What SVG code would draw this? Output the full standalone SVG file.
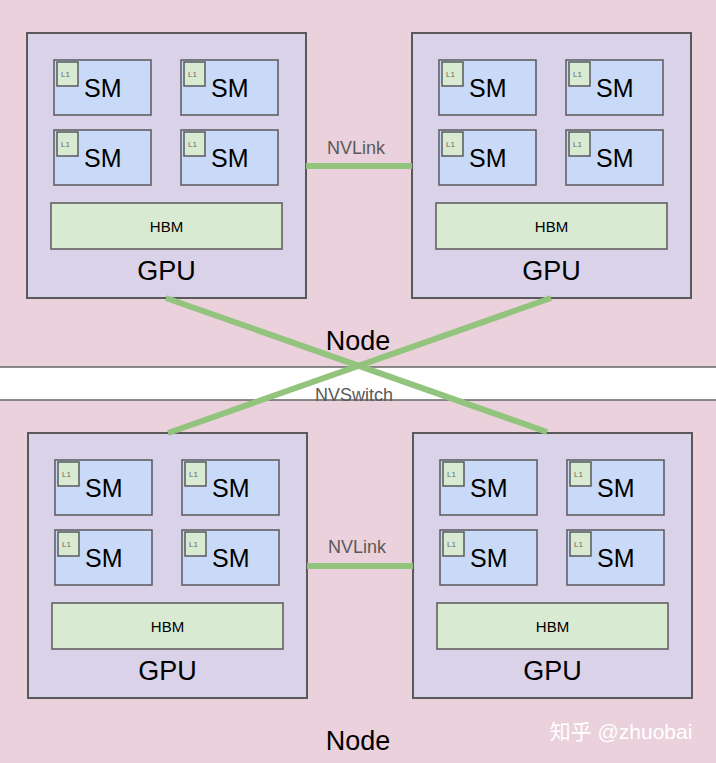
<svg xmlns="http://www.w3.org/2000/svg" xmlns:xlink="http://www.w3.org/1999/xlink" width="716" height="763" viewBox="0 0 716 763">
<style>
.node{fill:#ead1dc;stroke:#666;stroke-width:1.5}
.gpu{fill:#d9d2e9;stroke:#595959;stroke-width:2}
.sm{fill:#c9daf8;stroke:#595959;stroke-width:1.5}
.hbm{fill:#d9ead3;stroke:#595959;stroke-width:1.5}
.l1{fill:#d9ead3;stroke:#595959;stroke-width:1.5}
text{font-family:"Liberation Sans",Arial,sans-serif;fill:#000}
.t-sm{font-size:25px}
.t-l1{font-size:8px;fill:#666}
.t-hbm{font-size:15px;text-anchor:middle}
.t-gpu{font-size:27px;text-anchor:middle}
.t-node{font-size:27px;text-anchor:middle}
.t-lbl{font-size:18px;fill:#595959;text-anchor:middle}
.link{stroke:#93c47d;stroke-width:6;fill:none}
</style>
<defs>
<g id="smbox">
<rect class="sm" x="0" y="0" width="97" height="55"/>
<rect class="l1" x="3" y="2" width="21" height="24"/>
<text class="t-l1" x="7" y="17">L1</text>
<text class="t-sm" x="30" y="37">SM</text>
</g>
<g id="gpubox">
<rect class="gpu" x="0" y="0" width="279" height="265"/>
<use xlink:href="#smbox" x="27" y="27"/>
<use xlink:href="#smbox" x="154" y="27"/>
<use xlink:href="#smbox" x="27" y="97"/>
<use xlink:href="#smbox" x="154" y="97"/>
<rect class="hbm" x="24" y="170" width="231" height="46"/>
<text class="t-hbm" x="139.500" y="199">HBM</text>
<text class="t-gpu" x="139.500" y="247">GPU</text>
</g>
</defs>
<rect width="716" height="763" fill="#fff"/>
<g id="node-top"><rect class="node" x="-1" y="-2" width="718" height="369"/><text class="t-node" x="358" y="350">Node</text></g>
<g id="node-bottom"><rect class="node" x="-1" y="400" width="718" height="366"/><text class="t-node" x="358" y="750">Node</text></g>
<g id="gpu-tl"><use xlink:href="#gpubox" x="27" y="33"/></g>
<g id="gpu-tr"><use xlink:href="#gpubox" x="412" y="33"/></g>
<g id="gpu-bl"><use xlink:href="#gpubox" x="28" y="433"/></g>
<g id="gpu-br"><use xlink:href="#gpubox" x="413" y="433"/></g>
<g id="connectors">
<line class="link" x1="306" y1="166" x2="412" y2="166"/>
<line class="link" x1="307" y1="566" x2="413" y2="566"/>
<line class="link" x1="166" y1="298" x2="547" y2="432"/>
<line class="link" x1="551" y1="298" x2="168" y2="433"/>
<text class="t-lbl" x="356" y="154">NVLink</text>
<text class="t-lbl" x="357" y="553">NVLink</text>
<text class="t-lbl" x="354" y="401">NVSwitch</text>
</g>
<text x="621" y="739" style="font-family:'Liberation Sans','Noto Sans CJK SC',sans-serif;font-size:21px;fill:#fff;text-anchor:middle">知乎 @zhuobai</text>
</svg>
